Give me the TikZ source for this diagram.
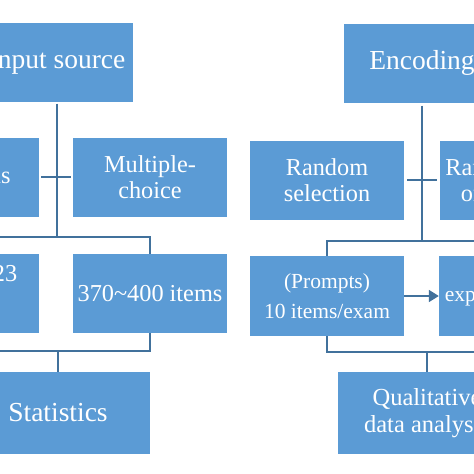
\documentclass[tikz,border=0pt]{standalone}
\usepackage{fontspec}
\setmainfont{Liberation Serif}
\usetikzlibrary{arrows.meta}
\definecolor{boxblue}{HTML}{5B9BD5}
\definecolor{linkblue}{HTML}{41719C}
\tikzset{
  box/.style={fill=boxblue, text=white, inner sep=0pt, align=center},
  conn/.style={draw=linkblue, line width=1.7pt},
  ftop/.style={font=\fontsize{27.5}{30}\selectfont},
  fmid/.style={font=\fontsize{24.3}{26.5}\selectfont},
  fprm/.style={font=\fontsize{21.5}{30}\selectfont},
  fstat/.style={font=\fontsize{27.5}{30}\selectfont},
  fqual/.style={font=\fontsize{24.5}{27.5}\selectfont},
}
\begin{document}
\begin{tikzpicture}[x=1pt,y=-1pt]
\useasboundingbox (0,0) rectangle (474,474);
\fill[white] (0,0) rectangle (474,474);
\clip (0,0) rectangle (474,474);
% left column
\node[box, ftop, minimum width=152, minimum height=79] (inp) at (57,62) {Input source};
\node[box, fmid, minimum width=154, minimum height=79] (que) at (-38,177) {Questions};
\node[box, fmid, minimum width=154, minimum height=79] (mc) at (150,177) {Multiple-\\choice};
\node[box, fmid, minimum width=154, minimum height=79] (yrs) at (-38,293.5) {2013\textasciitilde2023\\[14pt]\mbox{}};
\node[box, fmid, minimum width=154, minimum height=79] (items) at (150,293.5) {370\textasciitilde400 items};
\node[box, fstat, minimum width=184, minimum height=82] (stat) at (58,413) {Statistics};
% right column
\node[box, ftop, minimum width=156, minimum height=79] (enc) at (422,63) {Encoding};
\node[box, fmid, minimum width=154, minimum height=79] (rs) at (327,180) {Random\\selection};
\node[box, fmid, minimum width=93, minimum height=79] (ro) at (486.5,180) {Random\\order};
\node[box, fprm, minimum width=154, minimum height=80] (pr) at (327,296) {(Prompts)\\10 items/exam};
\node[box, fprm, minimum width=112, minimum height=80] (ex) at (495,296) {explanation};
\node[box, fqual, minimum width=178, minimum height=82] (qa) at (427,413) {Qualitative\\data analysis};
% left connectors
\draw[conn, shorten <=2pt] (inp.south) -- (inp.south |- 0,237) coordinate (jL);
\draw[conn] (yrs.north) |- (jL) -| (items.north);
\draw[conn, shorten <=2pt, shorten >=2pt] (que.east) -- (mc.west);
\draw[conn] (yrs.south) -- ++(0,18) coordinate (bL) -| (items.south);
\draw[conn] (stat.north) -- (stat.north |- bL);
% right connectors
\draw[conn, shorten <=3pt] (enc.south) -- (enc.south |- 0,241) coordinate (jR);
\draw[conn] (pr.north) |- (jR) -| (ex.north);
\draw[conn, shorten <=3pt, shorten >=3pt] (rs.east) -- (ro.west);
\draw[conn, -{Triangle[length=10pt,width=12pt]}] (pr.east) -- (ex.west);
\draw[conn] (pr.south) -- ++(0,16) coordinate (bR) -| (ex.south);
\draw[conn] (qa.north) -- (qa.north |- bR);
\end{tikzpicture}
\end{document}
